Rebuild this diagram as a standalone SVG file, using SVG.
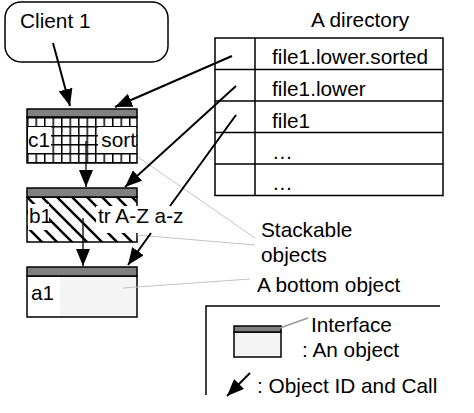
<svg xmlns="http://www.w3.org/2000/svg" width="474" height="413" viewBox="0 0 474 413">
<style>
text{font-family:"Liberation Sans",Arial,sans-serif;font-size:20.8px;fill:#000}
.ln{stroke:#000;stroke-width:1.5;fill:none}
.box{stroke:#000;stroke-width:1.5}
.bar{fill:#808080;stroke:#000;stroke-width:1.5}
.arr{stroke:#000;stroke-width:2;fill:none;marker-end:url(#ah)}
.arr2{stroke:#000;stroke-width:1.3;fill:none;marker-end:url(#ah)}
.lead{stroke:#c4c4c4;stroke-width:1;fill:none}
.bg{fill:#fff}
.lg{fill:#f4f4f4}
</style>
<defs>
<marker id="ah" markerUnits="userSpaceOnUse" markerWidth="17" markerHeight="14" refX="17" refY="7" orient="auto">
<path d="M0,0 L17,7 L0,14 z" fill="#000"/>
</marker>
<pattern id="grid" patternUnits="userSpaceOnUse" x="27" y="117" width="8.5" height="9">
<rect width="8.5" height="9" fill="#fff"/>
<path d="M0.75,0 V9 M0,0.75 H8.5" stroke="#000" stroke-width="1.5"/>
</pattern>
<pattern id="hatch" patternUnits="userSpaceOnUse" x="27" y="197" width="15" height="15">
<rect width="15" height="15" fill="#fff"/>
<path d="M-4,-4 L19,19 M-4,11 L4,19 M11,-4 L19,4" stroke="#000" stroke-width="2.5"/>
</pattern>
</defs>

<g id="client1">
<rect x="5" y="2" width="163" height="60" rx="16" ry="16" class="ln"/>
<text x="20" y="28">Client 1</text>
</g>

<g id="directory">
<text x="311" y="27">A directory</text>
<rect x="215" y="38" width="228" height="157.5" class="ln"/>
<path d="M255,38 V195.5 M215,69.5 H443 M215,101 H443 M215,132.5 H443 M215,164 H443" class="ln"/>
<text x="272" y="64">file1.lower.sorted</text>
<text x="272" y="96">file1.lower</text>
<text x="272" y="128">file1</text>
<text x="272" y="159">…</text>
<text x="272" y="190">…</text>
</g>

<g id="c1">
<rect x="27" y="117" width="110" height="46" class="box" style="fill:url(#grid)"/>
<rect x="28" y="127" width="23" height="26" class="bg"/>
<rect x="98" y="127" width="38" height="26" class="bg"/>
<rect x="27" y="109" width="110" height="8" class="bar"/>
<text x="28" y="147">c1</text>
<text x="136" y="147" text-anchor="end">sort</text>
</g>

<g id="b1">
<rect x="27" y="197" width="110" height="45" class="box" style="fill:url(#hatch)"/>
<rect x="28" y="204" width="21" height="26" class="bg"/>
<rect x="96" y="206" width="91" height="27" class="bg"/>
<rect x="27" y="188" width="110" height="9" class="bar"/>
<text x="29" y="223">b1</text>
<text x="98" y="223">tr A-Z a-z</text>
</g>

<g id="a1">
<rect x="27" y="276" width="110" height="41" class="box lg"/>
<rect x="28" y="277" width="32" height="39" class="bg"/>
<rect x="27" y="267" width="110" height="9" class="bar"/>
<text x="31" y="300">a1</text>
</g>

<g id="labels">
<text x="261" y="237">Stackable</text>
<text x="261" y="262">objects</text>
<text x="257" y="292">A bottom object</text>
</g>

<g id="legend">
<path d="M206,395 V306 H440" class="ln"/>
<rect x="234" y="332" width="47" height="25" class="box lg"/>
<rect x="234" y="326" width="47" height="6" class="bar"/>
<line x1="280" y1="328" x2="308" y2="318" stroke="#999" stroke-width="1.5"/>
<text x="311" y="332">Interface</text>
<text x="302" y="357">: An object</text>
<line x1="250" y1="373" x2="227" y2="396" class="arr"/>
<text x="257" y="393">: Object ID and Call</text>
</g>

<g id="connectors">
<line x1="138" y1="157" x2="255" y2="238" class="lead"/>
<line x1="137" y1="235" x2="255" y2="245" class="lead"/>
<line x1="123" y1="288" x2="250" y2="279" class="lead"/>
<line x1="53" y1="43" x2="70" y2="106" class="arr"/>
<line x1="232" y1="56" x2="115" y2="107" class="arr"/>
<line x1="236" y1="86" x2="125" y2="187" class="arr"/>
<path d="M236,115 L170,206 M151,233 L128,265" class="arr"/>
<line x1="86" y1="141" x2="86" y2="187" class="arr2"/>
<line x1="83" y1="218" x2="83" y2="266" class="arr2"/>
</g>
</svg>
